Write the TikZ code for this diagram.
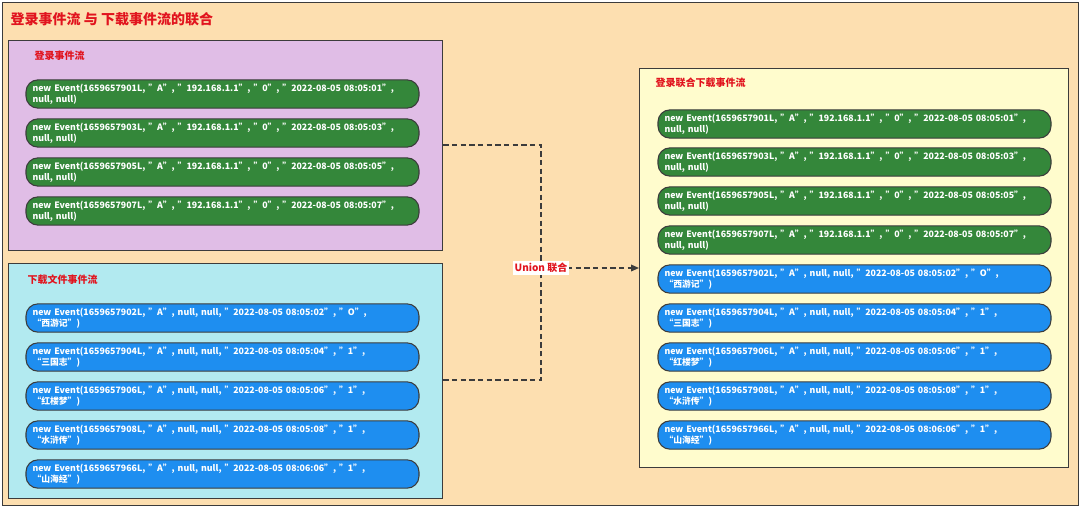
\documentclass[tikz,border=0pt]{standalone}
\usepackage{fontspec}
\setmainfont{Noto Sans CJK SC}
\usetikzlibrary{arrows.meta}
\definecolor{bgO}{RGB}{253,223,176}
\definecolor{bgP}{RGB}{224,189,230}
\definecolor{bgC}{RGB}{178,234,240}
\definecolor{bgY}{RGB}{255,252,205}
\definecolor{pG}{RGB}{52,135,58}
\definecolor{pB}{RGB}{30,142,240}
\definecolor{tR}{RGB}{225,20,30}
\definecolor{ln}{RGB}{60,60,60}
\begin{document}
\begin{tikzpicture}[x=0.75pt,y=-0.75pt,
  box/.style={draw=ln,line width=0.9pt,anchor=north west,inner sep=0},
  pill/.style={draw=ln,line width=0.8pt,rounded corners=9pt,minimum width=393*0.75pt,minimum height=28*0.75pt,text=white,font=\fontsize{6.6}{7}\selectfont\bfseries,align=left,text width=380*0.75pt,inner sep=3pt},
  gp/.style={pill,fill=pG},
  bp/.style={pill,fill=pB},
  lab/.style={text=tR,font=\fontsize{7.5}{9}\selectfont\bfseries,anchor=west},
  conn/.style={draw=ln,line width=1pt,dash pattern=on 4pt off 2.5pt}]
\useasboundingbox (0,0) rectangle (1080,507);
\node[box,fill=bgO,minimum width=1076*0.75pt,minimum height=503*0.75pt] (outer) at (2,2) {};
\node[lab,font=\fontsize{10.5}{12}\selectfont\bfseries] (title) at (6,19) {登录事件流 与 下载事件流的联合};
\node[box,fill=bgP,minimum width=434*0.75pt,minimum height=210*0.75pt] (login) at (8,40) {};
\node[lab] (loginL) at (30,56) {登录事件流};
\node[box,fill=bgC,minimum width=434*0.75pt,minimum height=235*0.75pt] (down) at (8,263) {};
\node[lab] (downL) at (23,280) {下载文件事件流};
\node[box,fill=bgY,minimum width=429*0.75pt,minimum height=399*0.75pt] (res) at (639,68) {};
\node[lab] (resL) at (651,83) {登录联合下载事件流};
\foreach \i/\y/\t in {1/94/1659657901L, 2/133/1659657903L, 3/172/1659657905L, 4/211/1659657907L}{
  \node[gp] (g\i) at (222.5,\y) {new Event(\t, "A", "192.168.1.1", "0", "2022-08-05 08:05:0\the\numexpr2*\i-1\relax", null, null)};
}
\foreach \i/\y/\t/\d/\s/\b in {1/318/1659657902L/08:05:02/O/西游记, 2/357/1659657904L/08:05:04/1/三国志, 3/396/1659657906L/08:05:06/1/红楼梦, 4/435/1659657908L/08:05:08/1/水浒传, 5/474/1659657966L/08:06:06/1/山海经}{
  \node[bp] (b\i) at (222.5,\y) {new Event(\t, "A", null, null, "2022-08-05 \d", "\s", “\b”)};
}
\foreach \i/\y/\t in {1/124/1659657901L, 2/162/1659657903L, 3/201/1659657905L, 4/240/1659657907L}{
  \node[gp] (rg\i) at (854.5,\y) {new Event(\t, "A", "192.168.1.1", "0", "2022-08-05 08:05:0\the\numexpr2*\i-1\relax", null, null)};
}
\foreach \i/\y/\t/\d/\s/\b in {1/279/1659657902L/08:05:02/O/西游记, 2/318/1659657904L/08:05:04/1/三国志, 3/357/1659657906L/08:05:06/1/红楼梦, 4/396/1659657908L/08:05:08/1/水浒传, 5/435/1659657966L/08:06:06/1/山海经}{
  \node[bp] (rb\i) at (854.5,\y) {new Event(\t, "A", null, null, "2022-08-05 \d", "\s", “\b”)};
}
\coordinate (j) at (541,268);
\draw[conn] (login.east |- 0,145) -| (j);
\draw[conn] (down.east |- 0,380) -| (j);
\draw[conn,-{Triangle[length=6pt,width=5pt]}] (j) -- (res.west |- j);
\node[fill=white,text=tR,font=\fontsize{7.5}{9}\selectfont\bfseries,inner sep=1.5pt] (u) at (j) {Union 联合};
\end{tikzpicture}
\end{document}
